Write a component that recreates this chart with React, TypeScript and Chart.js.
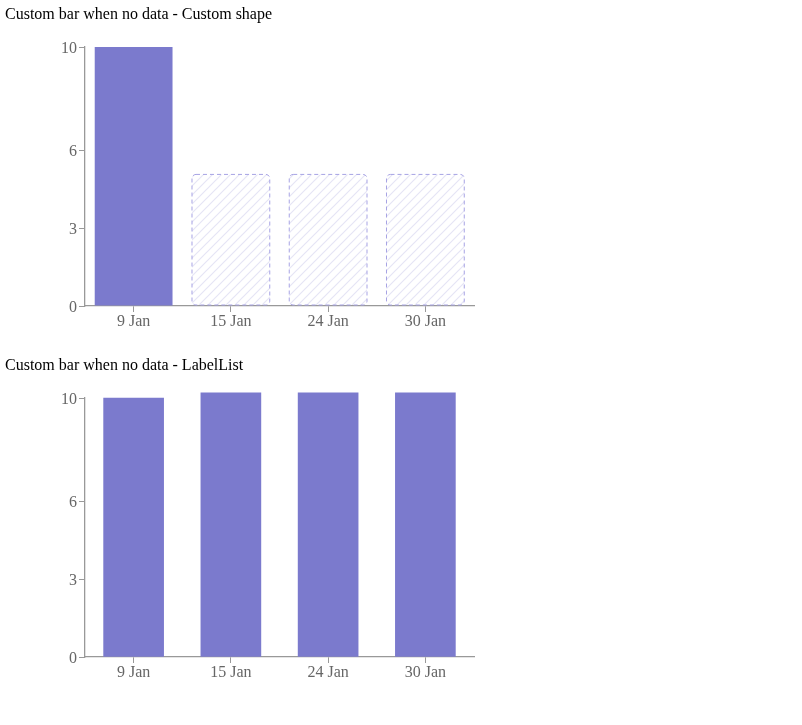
import React, { useRef, useEffect } from 'react';
import { Chart, registerables } from 'chart.js';

Chart.register(...registerables);

// Chart data
const categories = ['9 Jan', '15 Jan', '24 Jan', '30 Jan'];
const yTicks = [0, 3, 6, 10];

// "Custom shape" chart: real value + placeholder bars where there is no data
const shapeValues = [10, null, null, null];
const shapePlaceholder = [null, 5.1, 5.1, 5.1];

// "LabelList" chart
const labelListValues = [10, 10.2, 10.2, 10.2];

const titles = ['Custom bar when no data - Custom shape', 'Custom bar when no data - LabelList'];

const BAR_COLOR = '#7b7acd';
const AXIS_COLOR = '#999';
const TICK_TEXT = '#666';
const FONT = "'Liberation Serif', 'Times New Roman', serif";

const BLOCK_H = 351;
const CANVAS_W = 500;

// diagonal hatching used inside the placeholder bars
function makeHatch(ctx: CanvasRenderingContext2D) {
  const s = 9;
  const c = document.createElement('canvas');
  c.width = s;
  c.height = s;
  const p = c.getContext('2d')!;
  p.strokeStyle = '#e6e5f5';
  p.lineWidth = 1.2;
  p.beginPath();
  p.moveTo(0, s);
  p.lineTo(s, 0);
  p.moveTo(-s / 2, s / 2);
  p.lineTo(s / 2, -s / 2);
  p.moveTo(s / 2, s + s / 2);
  p.lineTo(s + s / 2, s / 2);
  p.stroke();
  return ctx.createPattern(c, 'repeat');
}

const placeholderPlugin = {
  id: 'noDataShape',
  afterDatasetsDraw(chart: any) {
    const ctx: CanvasRenderingContext2D = chart.ctx;
    chart.data.datasets.forEach((ds: any, di: number) => {
      if (!ds.placeholder) return;
      const meta = chart.getDatasetMeta(di);
      meta.data.forEach((bar: any, i: number) => {
        if (ds.data[i] == null) return;
        const { x, y, base, width } = bar.getProps(['x', 'y', 'base', 'width'], true);
        const left = x - width / 2 + 0.5;
        const w = width - 1;
        const top = y + 0.5;
        const h = base - y - 1;
        ctx.save();
        ctx.beginPath();
        ctx.roundRect(left, top, w, h, 4);
        ctx.fillStyle = makeHatch(ctx) || '#f4f4fb';
        ctx.fill();
        ctx.setLineDash([4, 3]);
        ctx.lineWidth = 1;
        ctx.strokeStyle = '#a7a3e4';
        ctx.stroke();
        ctx.restore();
      });
    });
  },
};

interface BarBlockProps {
  datasets: any[];
}

const BarBlock: React.FC<BarBlockProps> = ({ datasets }) => {
  const canvasRef = useRef<HTMLCanvasElement>(null);
  const chartInstance = useRef<Chart | null>(null);

  useEffect(() => {
    if (!canvasRef.current) return;
    if (chartInstance.current) chartInstance.current.destroy();

    chartInstance.current = new Chart(canvasRef.current, {
      type: 'bar',
      data: { labels: categories, datasets },
      plugins: [placeholderPlugin],
      options: {
        responsive: false,
        animation: false,
        layout: { padding: { left: 55, right: 26, top: 47, bottom: 20 } },
        plugins: { legend: { display: false }, tooltip: { enabled: false } },
        scales: {
          x: {
            offset: true,
            grid: { display: true, offset: false, drawOnChartArea: false, drawTicks: true, tickLength: 6, color: AXIS_COLOR },
            border: { display: true, color: AXIS_COLOR, width: 1.3 },
            ticks: { color: TICK_TEXT, font: { family: FONT, size: 16 }, padding: 0, maxRotation: 0 },
            afterFit: (scale: any) => {
              scale.height = 25;
            },
          },
          y: {
            min: 0,
            max: 10,
            grid: { display: true, drawOnChartArea: false, drawTicks: true, tickLength: 6, color: AXIS_COLOR },
            border: { display: true, color: AXIS_COLOR, width: 1.3 },
            ticks: { color: TICK_TEXT, font: { family: FONT, size: 16 }, padding: 2, labelOffset: 1.5 },
            afterBuildTicks: (scale: any) => {
              scale.ticks = yTicks.map((v) => ({ value: v }));
            },
            afterFit: (scale: any) => {
              scale.width = 30;
            },
          },
        },
      },
    } as any);

    return () => {
      if (chartInstance.current) {
        chartInstance.current.destroy();
        chartInstance.current = null;
      }
    };
  }, [datasets]);

  return <canvas ref={canvasRef} width={CANVAS_W} height={BLOCK_H} style={{ display: 'block' }} />;
};

const shapeDatasets = [
  {
    data: shapeValues,
    backgroundColor: BAR_COLOR,
    barPercentage: 0.8,
    categoryPercentage: 1,
    grouped: false,
  },
  {
    data: shapePlaceholder,
    backgroundColor: 'transparent',
    placeholder: true,
    barPercentage: 0.81,
    categoryPercentage: 1,
    grouped: false,
  },
];

const labelListDatasets = [
  {
    data: labelListValues,
    backgroundColor: BAR_COLOR,
    barThickness: 60,
    clip: false,
  },
];

const blocks = [shapeDatasets, labelListDatasets];

export default function App() {
  return (
    <div style={{ position: 'absolute', left: 0, top: 0, width: 802, height: 725, background: '#fff' }}>
      {blocks.map((ds, i) => (
        <div key={i} style={{ position: 'absolute', left: 0, top: i * BLOCK_H, width: CANVAS_W, height: BLOCK_H }}>
          <BarBlock datasets={ds} />
          <div
            style={{
              position: 'absolute',
              left: 5,
              top: 5,
              fontFamily: FONT,
              fontSize: 16,
              lineHeight: '18px',
              color: '#000',
              whiteSpace: 'nowrap',
            }}
          >
            {titles[i]}
          </div>
        </div>
      ))}
    </div>
  );
}
